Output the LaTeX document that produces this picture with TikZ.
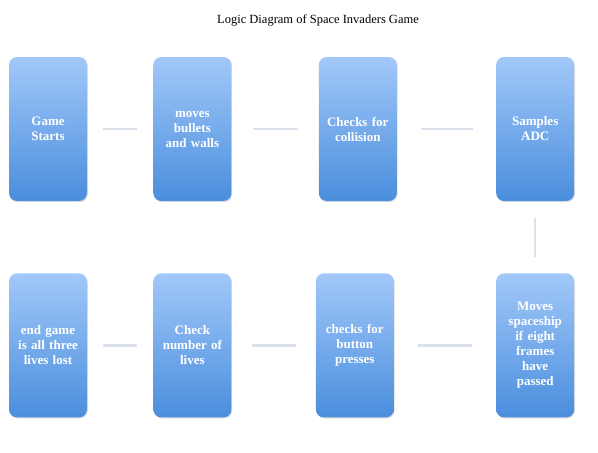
\documentclass[tikz,border=0pt]{standalone}
\usepackage{fontspec}
\setmainfont{Liberation Serif}
\usetikzlibrary{positioning, shadows}
\definecolor{boxtop}{HTML}{A2C8F9}
\definecolor{boxbottom}{HTML}{4A8EDD}
\definecolor{linkgray}{HTML}{DCE2EC}

\begin{document}
\begin{tikzpicture}[
        x=1pt, y=1pt,
        stepbox/.style={
            rectangle,
            rounded corners=8pt,
            inner sep=2pt,
            minimum width=78pt,
            minimum height=144pt,
            top color=boxtop,
            bottom color=boxbottom,
            text=white,
            text width=72pt,
            align=center,
            font=\fontsize{13}{15}\selectfont\bfseries,
            drop shadow={opacity=0.25, shadow xshift=0.8pt, shadow yshift=-1.2pt}
        },
        link/.style={line width=2.5pt, draw=linkgray}
    ]
        \useasboundingbox (0,0) rectangle (598,-453);

        % Title
        \node[font=\fontsize{12.5}{14}\selectfont] (title) at (318,-20) {Logic Diagram of Space Invaders Game};

        % Top row, left to right
        \node[stepbox] (start) at (48,-129) {Game\\Starts};
        \node[stepbox, right=66pt of start] (bullets) {moves\\bullets\\and walls};
        \node[stepbox, right=87pt of bullets] (collide) {Checks for\\collision};
        \node[stepbox, right=99pt of collide] (adc) {Samples\\ADC};

        % Bottom row, right to left
        \node[stepbox, below=72pt of adc] (ship) {Moves\\spaceship\\if eight\\frames\\have\\passed};
        \node[stepbox, left=102pt of ship] (buttons) {checks for\\button\\presses};
        \node[stepbox, left=84pt of buttons] (lives) {Check\\number of\\lives};
        \node[stepbox, left=66pt of lives] (over) {end game\\is all three\\lives lost};

        % Plain connectors, not touching the boxes
        \draw[link, shorten <=16pt, shorten >=16pt] (start) -- (bullets);
        \draw[link, shorten <=21pt, shorten >=21pt] (bullets) -- (collide);
        \draw[link, shorten <=24pt, shorten >=23pt] (collide) -- (adc);
        \draw[link, shorten <=17pt, shorten >=16pt] (adc) -- (ship);
        \draw[link, shorten <=24pt, shorten >=24pt] (ship) -- (buttons);
        \draw[link, shorten <=20pt, shorten >=20pt] (buttons) -- (lives);
        \draw[link, shorten <=16pt, shorten >=16pt] (lives) -- (over);
    \end{tikzpicture}
\end{document}
